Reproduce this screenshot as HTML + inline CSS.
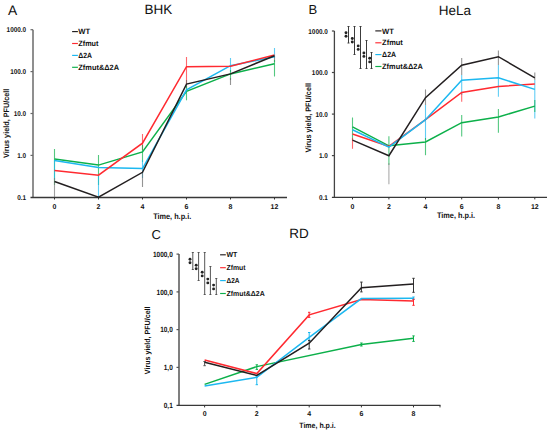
<!DOCTYPE html>
<html><head><meta charset="utf-8"><style>
html,body{margin:0;padding:0;background:#fff;width:550px;height:431px;overflow:hidden}
svg{display:block}
</style></head><body>
<svg width="550" height="431" viewBox="0 0 550 431" text-rendering="geometricPrecision">
<rect width="550" height="431" fill="#fff"/>
<line x1="33.0" y1="29.7" x2="33.0" y2="197.5" stroke="#6a6a6a" stroke-width="1.5" stroke-opacity="1.0"/>
<line x1="30.5" y1="197.5" x2="287.0" y2="197.5" stroke="#383838" stroke-width="1.4"/>
<line x1="30.5" y1="29.7" x2="33.0" y2="29.7" stroke="#6a6a6a" stroke-width="1.2"/>
<line x1="30.5" y1="71.6" x2="33.0" y2="71.6" stroke="#6a6a6a" stroke-width="1.2"/>
<line x1="30.5" y1="113.5" x2="33.0" y2="113.5" stroke="#6a6a6a" stroke-width="1.2"/>
<line x1="30.5" y1="155.4" x2="33.0" y2="155.4" stroke="#6a6a6a" stroke-width="1.2"/>
<line x1="54.5" y1="197.5" x2="54.5" y2="199.5" stroke="#333" stroke-width="1.0" stroke-opacity="1.0"/>
<line x1="98.5" y1="197.5" x2="98.5" y2="199.5" stroke="#333" stroke-width="1.0" stroke-opacity="1.0"/>
<line x1="142.5" y1="197.5" x2="142.5" y2="199.5" stroke="#333" stroke-width="1.0" stroke-opacity="1.0"/>
<line x1="186.5" y1="197.5" x2="186.5" y2="199.5" stroke="#333" stroke-width="1.0" stroke-opacity="1.0"/>
<line x1="230.5" y1="197.5" x2="230.5" y2="199.5" stroke="#333" stroke-width="1.0" stroke-opacity="1.0"/>
<line x1="274.5" y1="197.5" x2="274.5" y2="199.5" stroke="#333" stroke-width="1.0" stroke-opacity="1.0"/>
<text x="26.1" y="32.2" font-family='"Liberation Sans", sans-serif' font-size="7" font-weight="bold" fill="#111" text-anchor="end" textLength="19.5" lengthAdjust="spacingAndGlyphs">1000.0</text>
<text x="26.1" y="74.10000000000001" font-family='"Liberation Sans", sans-serif' font-size="7" font-weight="bold" fill="#111" text-anchor="end" textLength="15.95" lengthAdjust="spacingAndGlyphs">100.0</text>
<text x="26.1" y="116.00000000000001" font-family='"Liberation Sans", sans-serif' font-size="7" font-weight="bold" fill="#111" text-anchor="end" textLength="12.4" lengthAdjust="spacingAndGlyphs">10.0</text>
<text x="26.1" y="157.9" font-family='"Liberation Sans", sans-serif' font-size="7" font-weight="bold" fill="#111" text-anchor="end" textLength="8.87" lengthAdjust="spacingAndGlyphs">1.0</text>
<text x="26.1" y="199.8" font-family='"Liberation Sans", sans-serif' font-size="7" font-weight="bold" fill="#111" text-anchor="end" textLength="8.87" lengthAdjust="spacingAndGlyphs">0.1</text>
<text x="54.5" y="209.3" font-family='"Liberation Sans", sans-serif' font-size="7" font-weight="bold" fill="#111" text-anchor="middle">0</text>
<text x="98.5" y="209.3" font-family='"Liberation Sans", sans-serif' font-size="7" font-weight="bold" fill="#111" text-anchor="middle">2</text>
<text x="142.5" y="209.3" font-family='"Liberation Sans", sans-serif' font-size="7" font-weight="bold" fill="#111" text-anchor="middle">4</text>
<text x="186.5" y="209.3" font-family='"Liberation Sans", sans-serif' font-size="7" font-weight="bold" fill="#111" text-anchor="middle">6</text>
<text x="230.5" y="209.3" font-family='"Liberation Sans", sans-serif' font-size="7" font-weight="bold" fill="#111" text-anchor="middle">8</text>
<text x="274.5" y="209.3" font-family='"Liberation Sans", sans-serif' font-size="7" font-weight="bold" fill="#111" text-anchor="middle">12</text>
<text x="172.2" y="218.7" font-family='"Liberation Sans", sans-serif' font-size="8.1" font-weight="bold" fill="#111" text-anchor="middle" textLength="38" lengthAdjust="spacingAndGlyphs">Time, h.p.i.</text>
<text x="8.9" y="123.3" font-family='"Liberation Sans", sans-serif' font-size="7.9" font-weight="bold" fill="#111" text-anchor="middle" textLength="69.3" lengthAdjust="spacingAndGlyphs" transform="rotate(-90 8.9 123.3)">Virus yield, PFU/cell</text>
<text x="8.0" y="14.5" font-family='"Liberation Sans", sans-serif' font-size="13.8" font-weight="normal" fill="#111" text-anchor="start">A</text>
<text x="144.5" y="14.2" font-family='"Liberation Sans", sans-serif' font-size="13.5" font-weight="normal" fill="#111" text-anchor="start">BHK</text>
<line x1="54.5" y1="149.0" x2="54.5" y2="185.0" stroke="#0cb04a" stroke-width="1.1" stroke-opacity="0.7"/>
<line x1="54.5" y1="160.0" x2="54.5" y2="180.0" stroke="#1cb8f0" stroke-width="1.1" stroke-opacity="0.7"/>
<line x1="54.5" y1="178.0" x2="54.5" y2="197.0" stroke="#777" stroke-width="1.1" stroke-opacity="0.7"/>
<line x1="98.5" y1="155.0" x2="98.5" y2="185.0" stroke="#0cb04a" stroke-width="1.1" stroke-opacity="0.7"/>
<line x1="98.5" y1="175.0" x2="98.5" y2="197.0" stroke="#1cb8f0" stroke-width="1.1" stroke-opacity="0.7"/>
<line x1="142.5" y1="134.0" x2="142.5" y2="150.0" stroke="#ff2a30" stroke-width="1.1" stroke-opacity="0.7"/>
<line x1="142.5" y1="145.0" x2="142.5" y2="162.0" stroke="#0cb04a" stroke-width="1.1" stroke-opacity="0.7"/>
<line x1="142.5" y1="160.0" x2="142.5" y2="178.0" stroke="#1cb8f0" stroke-width="1.1" stroke-opacity="0.7"/>
<line x1="142.5" y1="172.0" x2="142.5" y2="187.0" stroke="#666" stroke-width="1.1" stroke-opacity="0.7"/>
<line x1="186.5" y1="57.0" x2="186.5" y2="84.0" stroke="#ff2a30" stroke-width="1.1" stroke-opacity="0.7"/>
<line x1="186.5" y1="80.0" x2="186.5" y2="88.0" stroke="#666" stroke-width="1.1" stroke-opacity="0.7"/>
<line x1="186.5" y1="86.0" x2="186.5" y2="100.3" stroke="#0cb04a" stroke-width="1.1" stroke-opacity="0.7"/>
<line x1="230.5" y1="58.0" x2="230.5" y2="72.0" stroke="#1cb8f0" stroke-width="1.1" stroke-opacity="0.7"/>
<line x1="230.5" y1="70.0" x2="230.5" y2="80.0" stroke="#0cb04a" stroke-width="1.1" stroke-opacity="0.7"/>
<line x1="230.5" y1="78.0" x2="230.5" y2="85.0" stroke="#666" stroke-width="1.1" stroke-opacity="0.7"/>
<line x1="274.5" y1="48.0" x2="274.5" y2="58.0" stroke="#1cb8f0" stroke-width="1.1" stroke-opacity="0.7"/>
<line x1="274.5" y1="56.0" x2="274.5" y2="62.0" stroke="#666" stroke-width="1.1" stroke-opacity="0.7"/>
<line x1="274.5" y1="60.0" x2="274.5" y2="76.5" stroke="#0cb04a" stroke-width="1.1" stroke-opacity="0.7"/>
<polyline points="54.5,159.1 98.5,165.1 142.5,151.9 186.5,91.4 230.5,73.9 274.5,63.8" fill="none" stroke="#0cb04a" stroke-width="1.5" stroke-linejoin="miter"/>
<polyline points="54.5,160.5 98.5,167.4 142.5,168.6 186.5,89.8 230.5,65.7 274.5,56.7" fill="none" stroke="#1cb8f0" stroke-width="1.5" stroke-linejoin="miter"/>
<polyline points="54.5,170.4 98.5,175.2 142.5,143.2 186.5,66.7 230.5,66.2 274.5,54.9" fill="none" stroke="#ff2a30" stroke-width="1.5" stroke-linejoin="miter"/>
<polyline points="54.5,181.5 98.5,197.1 142.5,172.3 186.5,84.1 230.5,73.9 274.5,55.7" fill="none" stroke="#231f20" stroke-width="1.5" stroke-linejoin="miter"/>
<line x1="72.1" y1="31.6" x2="77.9" y2="31.6" stroke="#231f20" stroke-width="1.15"/>
<text x="78.3" y="34.2" font-family='"Liberation Sans", sans-serif' font-size="7.7" font-weight="bold" fill="#111" text-anchor="start" textLength="11.9" lengthAdjust="spacingAndGlyphs">WT</text>
<line x1="72.1" y1="43.5" x2="77.9" y2="43.5" stroke="#ff2a30" stroke-width="1.15"/>
<text x="78.3" y="46.1" font-family='"Liberation Sans", sans-serif' font-size="7.7" font-weight="bold" fill="#111" text-anchor="start" textLength="20.2" lengthAdjust="spacingAndGlyphs">Zfmut</text>
<line x1="72.1" y1="55.4" x2="77.9" y2="55.4" stroke="#1cb8f0" stroke-width="1.15"/>
<text x="78.3" y="58.00000000000001" font-family='"Liberation Sans", sans-serif' font-size="7.7" font-weight="bold" fill="#111" text-anchor="start" textLength="13.8" lengthAdjust="spacingAndGlyphs">Δ2A</text>
<line x1="72.1" y1="67.3" x2="77.9" y2="67.3" stroke="#0cb04a" stroke-width="1.15"/>
<text x="78.3" y="69.9" font-family='"Liberation Sans", sans-serif' font-size="7.7" font-weight="bold" fill="#111" text-anchor="start" textLength="40.8" lengthAdjust="spacingAndGlyphs">Zfmut&amp;Δ2A</text>
<line x1="334.4" y1="31.0" x2="334.4" y2="197.4" stroke="#444" stroke-width="1.3" stroke-opacity="1.0"/>
<line x1="331.9" y1="197.4" x2="547.0" y2="197.4" stroke="#383838" stroke-width="1.4"/>
<line x1="331.9" y1="31.0" x2="334.4" y2="31.0" stroke="#444" stroke-width="1.2"/>
<line x1="331.9" y1="72.5" x2="334.4" y2="72.5" stroke="#444" stroke-width="1.2"/>
<line x1="331.9" y1="114.1" x2="334.4" y2="114.1" stroke="#444" stroke-width="1.2"/>
<line x1="331.9" y1="155.6" x2="334.4" y2="155.6" stroke="#444" stroke-width="1.2"/>
<line x1="352.5" y1="197.4" x2="352.5" y2="199.4" stroke="#333" stroke-width="1.0" stroke-opacity="1.0"/>
<line x1="388.9" y1="197.4" x2="388.9" y2="199.4" stroke="#333" stroke-width="1.0" stroke-opacity="1.0"/>
<line x1="425.5" y1="197.4" x2="425.5" y2="199.4" stroke="#333" stroke-width="1.0" stroke-opacity="1.0"/>
<line x1="461.7" y1="197.4" x2="461.7" y2="199.4" stroke="#333" stroke-width="1.0" stroke-opacity="1.0"/>
<line x1="498.4" y1="197.4" x2="498.4" y2="199.4" stroke="#333" stroke-width="1.0" stroke-opacity="1.0"/>
<line x1="534.8" y1="197.4" x2="534.8" y2="199.4" stroke="#333" stroke-width="1.0" stroke-opacity="1.0"/>
<text x="327.8" y="33.5" font-family='"Liberation Sans", sans-serif' font-size="7" font-weight="bold" fill="#111" text-anchor="end" textLength="19.5" lengthAdjust="spacingAndGlyphs">1000.0</text>
<text x="327.8" y="75.05" font-family='"Liberation Sans", sans-serif' font-size="7" font-weight="bold" fill="#111" text-anchor="end" textLength="15.95" lengthAdjust="spacingAndGlyphs">100.0</text>
<text x="327.8" y="116.6" font-family='"Liberation Sans", sans-serif' font-size="7" font-weight="bold" fill="#111" text-anchor="end" textLength="12.4" lengthAdjust="spacingAndGlyphs">10.0</text>
<text x="327.8" y="158.14999999999998" font-family='"Liberation Sans", sans-serif' font-size="7" font-weight="bold" fill="#111" text-anchor="end" textLength="8.87" lengthAdjust="spacingAndGlyphs">1.0</text>
<text x="327.8" y="199.7" font-family='"Liberation Sans", sans-serif' font-size="7" font-weight="bold" fill="#111" text-anchor="end" textLength="8.87" lengthAdjust="spacingAndGlyphs">0.1</text>
<text x="352.5" y="209.1" font-family='"Liberation Sans", sans-serif' font-size="7" font-weight="bold" fill="#111" text-anchor="middle">0</text>
<text x="388.9" y="209.1" font-family='"Liberation Sans", sans-serif' font-size="7" font-weight="bold" fill="#111" text-anchor="middle">2</text>
<text x="425.5" y="209.1" font-family='"Liberation Sans", sans-serif' font-size="7" font-weight="bold" fill="#111" text-anchor="middle">4</text>
<text x="461.7" y="209.1" font-family='"Liberation Sans", sans-serif' font-size="7" font-weight="bold" fill="#111" text-anchor="middle">6</text>
<text x="498.4" y="209.1" font-family='"Liberation Sans", sans-serif' font-size="7" font-weight="bold" fill="#111" text-anchor="middle">8</text>
<text x="534.8" y="209.1" font-family='"Liberation Sans", sans-serif' font-size="7" font-weight="bold" fill="#111" text-anchor="middle">12</text>
<text x="456.0" y="218.3" font-family='"Liberation Sans", sans-serif' font-size="8.1" font-weight="bold" fill="#111" text-anchor="middle" textLength="38" lengthAdjust="spacingAndGlyphs">Time, h.p.i.</text>
<text x="311.3" y="117.8" font-family='"Liberation Sans", sans-serif' font-size="7.9" font-weight="bold" fill="#111" text-anchor="middle" textLength="69.6" lengthAdjust="spacingAndGlyphs" transform="rotate(-90 311.3 117.8)">Virus yield, PFU/cell</text>
<text x="308.5" y="13.6" font-family='"Liberation Sans", sans-serif' font-size="13" font-weight="normal" fill="#111" text-anchor="start">B</text>
<text x="438.8" y="15.0" font-family='"Liberation Sans", sans-serif' font-size="13.5" font-weight="normal" fill="#111" text-anchor="start">HeLa</text>
<line x1="352.5" y1="117.5" x2="352.5" y2="140.0" stroke="#0cb04a" stroke-width="1.1" stroke-opacity="0.7"/>
<line x1="352.5" y1="138.0" x2="352.5" y2="148.8" stroke="#ff2a30" stroke-width="1.1" stroke-opacity="0.7"/>
<line x1="388.9" y1="136.3" x2="388.9" y2="165.0" stroke="#0cb04a" stroke-width="1.1" stroke-opacity="0.7"/>
<line x1="388.9" y1="163.0" x2="388.9" y2="184.2" stroke="#888" stroke-width="1.1" stroke-opacity="0.7"/>
<line x1="425.5" y1="89.4" x2="425.5" y2="105.0" stroke="#666" stroke-width="1.1" stroke-opacity="0.7"/>
<line x1="425.5" y1="105.0" x2="425.5" y2="140.0" stroke="#1cb8f0" stroke-width="1.1" stroke-opacity="0.7"/>
<line x1="425.5" y1="138.0" x2="425.5" y2="155.2" stroke="#0cb04a" stroke-width="1.1" stroke-opacity="0.7"/>
<line x1="461.7" y1="57.9" x2="461.7" y2="75.0" stroke="#666" stroke-width="1.1" stroke-opacity="0.7"/>
<line x1="461.7" y1="75.0" x2="461.7" y2="95.0" stroke="#1cb8f0" stroke-width="1.1" stroke-opacity="0.7"/>
<line x1="461.7" y1="93.0" x2="461.7" y2="101.8" stroke="#ff2a30" stroke-width="1.1" stroke-opacity="0.7"/>
<line x1="461.7" y1="115.1" x2="461.7" y2="136.6" stroke="#0cb04a" stroke-width="1.1" stroke-opacity="0.7"/>
<line x1="498.4" y1="50.4" x2="498.4" y2="65.0" stroke="#666" stroke-width="1.1" stroke-opacity="0.7"/>
<line x1="498.4" y1="65.0" x2="498.4" y2="96.8" stroke="#1cb8f0" stroke-width="1.1" stroke-opacity="0.7"/>
<line x1="498.4" y1="108.9" x2="498.4" y2="132.8" stroke="#0cb04a" stroke-width="1.1" stroke-opacity="0.7"/>
<line x1="534.8" y1="72.5" x2="534.8" y2="80.0" stroke="#666" stroke-width="1.1" stroke-opacity="0.7"/>
<line x1="534.8" y1="80.0" x2="534.8" y2="118.4" stroke="#1cb8f0" stroke-width="1.1" stroke-opacity="0.7"/>
<line x1="534.8" y1="100.0" x2="534.8" y2="112.0" stroke="#0cb04a" stroke-width="1.1" stroke-opacity="0.7"/>
<polyline points="352.5,126.8 388.9,145.8 425.5,142.0 461.7,122.7 498.4,117.0 534.8,106.1" fill="none" stroke="#0cb04a" stroke-width="1.5" stroke-linejoin="miter"/>
<polyline points="352.5,134.0 388.9,146.4 425.5,119.7 461.7,92.4 498.4,86.4 534.8,84.1" fill="none" stroke="#ff2a30" stroke-width="1.5" stroke-linejoin="miter"/>
<polyline points="352.5,129.7 388.9,147.2 425.5,119.7 461.7,80.3 498.4,77.8 534.8,89.4" fill="none" stroke="#1cb8f0" stroke-width="1.5" stroke-linejoin="miter"/>
<polyline points="352.5,140.1 388.9,155.7 425.5,97.7 461.7,65.2 498.4,56.7 534.8,77.8" fill="none" stroke="#231f20" stroke-width="1.5" stroke-linejoin="miter"/>
<line x1="375.3" y1="30.9" x2="381.5" y2="30.9" stroke="#231f20" stroke-width="1.15"/>
<text x="382.1" y="33.5" font-family='"Liberation Sans", sans-serif' font-size="7.7" font-weight="bold" fill="#111" text-anchor="start" textLength="11.8" lengthAdjust="spacingAndGlyphs">WT</text>
<line x1="375.3" y1="42.8" x2="381.5" y2="42.8" stroke="#ff2a30" stroke-width="1.15"/>
<text x="382.1" y="45.37" font-family='"Liberation Sans", sans-serif' font-size="7.7" font-weight="bold" fill="#111" text-anchor="start" textLength="20.7" lengthAdjust="spacingAndGlyphs">Zfmut</text>
<line x1="375.3" y1="54.6" x2="381.5" y2="54.6" stroke="#1cb8f0" stroke-width="1.15"/>
<text x="382.1" y="57.24" font-family='"Liberation Sans", sans-serif' font-size="7.7" font-weight="bold" fill="#111" text-anchor="start" textLength="14.0" lengthAdjust="spacingAndGlyphs">Δ2A</text>
<line x1="375.3" y1="66.5" x2="381.5" y2="66.5" stroke="#0cb04a" stroke-width="1.15"/>
<text x="382.1" y="69.10999999999999" font-family='"Liberation Sans", sans-serif' font-size="7.7" font-weight="bold" fill="#111" text-anchor="start" textLength="40.7" lengthAdjust="spacingAndGlyphs">Zfmut&amp;Δ2A</text>
<line x1="348.5" y1="26.5" x2="348.5" y2="43.0" stroke="#3c3c3c" stroke-width="1.0" stroke-opacity="1.0"/>
<line x1="347.5" y1="26.5" x2="349.5" y2="26.5" stroke="#3c3c3c" stroke-width="1.0"/>
<line x1="347.5" y1="43.0" x2="349.5" y2="43.0" stroke="#3c3c3c" stroke-width="1.0"/>
<circle cx="346.0" cy="32.8" r="1.45" fill="#222"/>
<circle cx="346.0" cy="36.3" r="1.45" fill="#222"/>
<line x1="354.5" y1="26.5" x2="354.5" y2="54.5" stroke="#3c3c3c" stroke-width="1.0" stroke-opacity="1.0"/>
<line x1="353.5" y1="26.5" x2="355.5" y2="26.5" stroke="#3c3c3c" stroke-width="1.0"/>
<line x1="353.5" y1="54.5" x2="355.5" y2="54.5" stroke="#3c3c3c" stroke-width="1.0"/>
<circle cx="352.3" cy="38.5" r="1.45" fill="#222"/>
<circle cx="352.3" cy="42.0" r="1.45" fill="#222"/>
<line x1="360.5" y1="26.5" x2="360.5" y2="68.5" stroke="#3c3c3c" stroke-width="1.0" stroke-opacity="1.0"/>
<line x1="359.5" y1="26.5" x2="361.5" y2="26.5" stroke="#3c3c3c" stroke-width="1.0"/>
<line x1="359.5" y1="68.5" x2="361.5" y2="68.5" stroke="#3c3c3c" stroke-width="1.0"/>
<circle cx="358.2" cy="45.9" r="1.45" fill="#222"/>
<circle cx="358.2" cy="49.4" r="1.45" fill="#222"/>
<line x1="366.5" y1="40.5" x2="366.5" y2="68.5" stroke="#3c3c3c" stroke-width="1.0" stroke-opacity="1.0"/>
<line x1="365.5" y1="40.5" x2="367.5" y2="40.5" stroke="#3c3c3c" stroke-width="1.0"/>
<line x1="365.5" y1="68.5" x2="367.5" y2="68.5" stroke="#3c3c3c" stroke-width="1.0"/>
<circle cx="363.9" cy="53.0" r="1.45" fill="#222"/>
<circle cx="363.9" cy="56.4" r="1.45" fill="#222"/>
<line x1="371.5" y1="52.5" x2="371.5" y2="68.5" stroke="#3c3c3c" stroke-width="1.0" stroke-opacity="1.0"/>
<line x1="370.5" y1="52.5" x2="372.5" y2="52.5" stroke="#3c3c3c" stroke-width="1.0"/>
<line x1="370.5" y1="68.5" x2="372.5" y2="68.5" stroke="#3c3c3c" stroke-width="1.0"/>
<circle cx="369.7" cy="58.3" r="1.45" fill="#222"/>
<circle cx="369.7" cy="61.9" r="1.45" fill="#222"/>
<line x1="179.0" y1="254.1" x2="179.0" y2="405.4" stroke="#555" stroke-width="1.5" stroke-opacity="1.0"/>
<line x1="176.5" y1="405.4" x2="440.5" y2="405.4" stroke="#383838" stroke-width="1.4"/>
<line x1="176.5" y1="254.1" x2="179.0" y2="254.1" stroke="#555" stroke-width="1.2"/>
<line x1="176.5" y1="291.9" x2="179.0" y2="291.9" stroke="#555" stroke-width="1.2"/>
<line x1="176.5" y1="329.6" x2="179.0" y2="329.6" stroke="#555" stroke-width="1.2"/>
<line x1="176.5" y1="367.4" x2="179.0" y2="367.4" stroke="#555" stroke-width="1.2"/>
<line x1="204.6" y1="405.4" x2="204.6" y2="407.4" stroke="#333" stroke-width="1.0" stroke-opacity="1.0"/>
<line x1="256.8" y1="405.4" x2="256.8" y2="407.4" stroke="#333" stroke-width="1.0" stroke-opacity="1.0"/>
<line x1="309.2" y1="405.4" x2="309.2" y2="407.4" stroke="#333" stroke-width="1.0" stroke-opacity="1.0"/>
<line x1="361.4" y1="405.4" x2="361.4" y2="407.4" stroke="#333" stroke-width="1.0" stroke-opacity="1.0"/>
<line x1="413.5" y1="405.4" x2="413.5" y2="407.4" stroke="#333" stroke-width="1.0" stroke-opacity="1.0"/>
<line x1="440.0" y1="405.4" x2="440.0" y2="407.4" stroke="#333" stroke-width="1.0" stroke-opacity="1.0"/>
<text x="172.8" y="256.8" font-family='"Liberation Sans", sans-serif' font-size="7.5" font-weight="bold" fill="#111" text-anchor="end" textLength="19.89" lengthAdjust="spacingAndGlyphs">1000,0</text>
<text x="172.8" y="294.55" font-family='"Liberation Sans", sans-serif' font-size="7.5" font-weight="bold" fill="#111" text-anchor="end" textLength="16.269" lengthAdjust="spacingAndGlyphs">100,0</text>
<text x="172.8" y="332.3" font-family='"Liberation Sans", sans-serif' font-size="7.5" font-weight="bold" fill="#111" text-anchor="end" textLength="12.648000000000001" lengthAdjust="spacingAndGlyphs">10,0</text>
<text x="172.8" y="370.05" font-family='"Liberation Sans", sans-serif' font-size="7.5" font-weight="bold" fill="#111" text-anchor="end" textLength="9.0474" lengthAdjust="spacingAndGlyphs">1,0</text>
<text x="172.8" y="407.8" font-family='"Liberation Sans", sans-serif' font-size="7.5" font-weight="bold" fill="#111" text-anchor="end" textLength="9.0474" lengthAdjust="spacingAndGlyphs">0,1</text>
<text x="204.6" y="415.6" font-family='"Liberation Sans", sans-serif' font-size="7" font-weight="bold" fill="#111" text-anchor="middle">0</text>
<text x="256.8" y="415.6" font-family='"Liberation Sans", sans-serif' font-size="7" font-weight="bold" fill="#111" text-anchor="middle">2</text>
<text x="309.2" y="415.6" font-family='"Liberation Sans", sans-serif' font-size="7" font-weight="bold" fill="#111" text-anchor="middle">4</text>
<text x="361.4" y="415.6" font-family='"Liberation Sans", sans-serif' font-size="7" font-weight="bold" fill="#111" text-anchor="middle">6</text>
<text x="413.5" y="415.6" font-family='"Liberation Sans", sans-serif' font-size="7" font-weight="bold" fill="#111" text-anchor="middle">8</text>
<text x="317.5" y="427.6" font-family='"Liberation Sans", sans-serif' font-size="7.7" font-weight="bold" fill="#111" text-anchor="middle" textLength="36.5" lengthAdjust="spacingAndGlyphs">Time, h.p.i.</text>
<text x="149.7" y="340.3" font-family='"Liberation Sans", sans-serif' font-size="7.6" font-weight="bold" fill="#111" text-anchor="middle" textLength="67.7" lengthAdjust="spacingAndGlyphs" transform="rotate(-90 149.7 340.3)">Virus yield, PFU/cell</text>
<text x="151.5" y="238.5" font-family='"Liberation Sans", sans-serif' font-size="13" font-weight="normal" fill="#111" text-anchor="start">C</text>
<text x="289.2" y="238.3" font-family='"Liberation Sans", sans-serif' font-size="13.5" font-weight="normal" fill="#111" text-anchor="start">RD</text>
<line x1="204.6" y1="361.5" x2="204.6" y2="365.7" stroke="#555" stroke-width="1.0" stroke-opacity="1.0"/>
<line x1="203.4" y1="361.5" x2="205.8" y2="361.5" stroke="#555" stroke-width="1.0"/>
<line x1="203.4" y1="365.7" x2="205.8" y2="365.7" stroke="#555" stroke-width="1.0"/>
<line x1="256.8" y1="364.8" x2="256.8" y2="369.4" stroke="#0cb04a" stroke-width="1.0" stroke-opacity="1.0"/>
<line x1="255.6" y1="364.8" x2="258.0" y2="364.8" stroke="#0cb04a" stroke-width="1.0"/>
<line x1="255.6" y1="369.4" x2="258.0" y2="369.4" stroke="#0cb04a" stroke-width="1.0"/>
<line x1="256.8" y1="376.8" x2="256.8" y2="384.7" stroke="#1cb8f0" stroke-width="1.0" stroke-opacity="1.0"/>
<line x1="255.6" y1="376.8" x2="258.0" y2="376.8" stroke="#1cb8f0" stroke-width="1.0"/>
<line x1="255.6" y1="384.7" x2="258.0" y2="384.7" stroke="#1cb8f0" stroke-width="1.0"/>
<line x1="309.2" y1="312.3" x2="309.2" y2="317.4" stroke="#ff2a30" stroke-width="1.0" stroke-opacity="1.0"/>
<line x1="308.0" y1="312.3" x2="310.4" y2="312.3" stroke="#ff2a30" stroke-width="1.0"/>
<line x1="308.0" y1="317.4" x2="310.4" y2="317.4" stroke="#ff2a30" stroke-width="1.0"/>
<line x1="309.2" y1="332.5" x2="309.2" y2="340.4" stroke="#1cb8f0" stroke-width="1.0" stroke-opacity="1.0"/>
<line x1="308.0" y1="332.5" x2="310.4" y2="332.5" stroke="#1cb8f0" stroke-width="1.0"/>
<line x1="308.0" y1="340.4" x2="310.4" y2="340.4" stroke="#1cb8f0" stroke-width="1.0"/>
<line x1="309.2" y1="340.4" x2="309.2" y2="349.0" stroke="#333" stroke-width="1.0" stroke-opacity="1.0"/>
<line x1="308.0" y1="340.4" x2="310.4" y2="340.4" stroke="#333" stroke-width="1.0"/>
<line x1="308.0" y1="349.0" x2="310.4" y2="349.0" stroke="#333" stroke-width="1.0"/>
<line x1="361.4" y1="282.1" x2="361.4" y2="291.9" stroke="#333" stroke-width="1.0" stroke-opacity="1.0"/>
<line x1="360.2" y1="282.1" x2="362.6" y2="282.1" stroke="#333" stroke-width="1.0"/>
<line x1="360.2" y1="291.9" x2="362.6" y2="291.9" stroke="#333" stroke-width="1.0"/>
<line x1="413.5" y1="278.3" x2="413.5" y2="292.3" stroke="#333" stroke-width="1.0" stroke-opacity="1.0"/>
<line x1="412.3" y1="278.3" x2="414.7" y2="278.3" stroke="#333" stroke-width="1.0"/>
<line x1="412.3" y1="292.3" x2="414.7" y2="292.3" stroke="#333" stroke-width="1.0"/>
<line x1="413.5" y1="297.0" x2="413.5" y2="299.5" stroke="#1cb8f0" stroke-width="1.0" stroke-opacity="1.0"/>
<line x1="412.3" y1="297.0" x2="414.7" y2="297.0" stroke="#1cb8f0" stroke-width="1.0"/>
<line x1="412.3" y1="299.5" x2="414.7" y2="299.5" stroke="#1cb8f0" stroke-width="1.0"/>
<line x1="413.5" y1="299.0" x2="413.5" y2="305.3" stroke="#ff2a30" stroke-width="1.0" stroke-opacity="1.0"/>
<line x1="412.3" y1="299.0" x2="414.7" y2="299.0" stroke="#ff2a30" stroke-width="1.0"/>
<line x1="412.3" y1="305.3" x2="414.7" y2="305.3" stroke="#ff2a30" stroke-width="1.0"/>
<line x1="413.5" y1="335.9" x2="413.5" y2="341.4" stroke="#0cb04a" stroke-width="1.0" stroke-opacity="1.0"/>
<line x1="412.3" y1="335.9" x2="414.7" y2="335.9" stroke="#0cb04a" stroke-width="1.0"/>
<line x1="412.3" y1="341.4" x2="414.7" y2="341.4" stroke="#0cb04a" stroke-width="1.0"/>
<line x1="361.4" y1="343.0" x2="361.4" y2="346.0" stroke="#0cb04a" stroke-width="1.0" stroke-opacity="1.0"/>
<line x1="360.2" y1="343.0" x2="362.6" y2="343.0" stroke="#0cb04a" stroke-width="1.0"/>
<line x1="360.2" y1="346.0" x2="362.6" y2="346.0" stroke="#0cb04a" stroke-width="1.0"/>
<polyline points="204.6,384.4 256.8,366.6 361.4,344.5 413.5,338.3" fill="none" stroke="#0cb04a" stroke-width="1.5" stroke-linejoin="miter"/>
<polyline points="204.6,359.9 256.8,373.6 309.2,314.9 361.4,299.6 413.5,301.0" fill="none" stroke="#ff2a30" stroke-width="1.5" stroke-linejoin="miter"/>
<polyline points="204.6,386.0 256.8,377.3 309.2,337.3 361.4,298.6 413.5,298.2" fill="none" stroke="#1cb8f0" stroke-width="1.5" stroke-linejoin="miter"/>
<polyline points="204.6,362.3 256.8,375.4 309.2,343.2 361.4,287.7 413.5,283.9" fill="none" stroke="#231f20" stroke-width="1.5" stroke-linejoin="miter"/>
<line x1="220.1" y1="254.8" x2="225.8" y2="254.8" stroke="#231f20" stroke-width="1.15"/>
<text x="226.5" y="257.3" font-family='"Liberation Sans", sans-serif' font-size="7.3" font-weight="bold" fill="#111" text-anchor="start" textLength="10.8" lengthAdjust="spacingAndGlyphs">WT</text>
<line x1="220.1" y1="267.7" x2="225.8" y2="267.7" stroke="#ff2a30" stroke-width="1.15"/>
<text x="226.5" y="270.2" font-family='"Liberation Sans", sans-serif' font-size="7.3" font-weight="bold" fill="#111" text-anchor="start" textLength="19.1" lengthAdjust="spacingAndGlyphs">Zfmut</text>
<line x1="220.1" y1="280.6" x2="225.8" y2="280.6" stroke="#1cb8f0" stroke-width="1.15"/>
<text x="226.5" y="283.1" font-family='"Liberation Sans", sans-serif' font-size="7.3" font-weight="bold" fill="#111" text-anchor="start" textLength="13.0" lengthAdjust="spacingAndGlyphs">Δ2A</text>
<line x1="220.1" y1="293.5" x2="225.8" y2="293.5" stroke="#0cb04a" stroke-width="1.15"/>
<text x="226.5" y="296.0" font-family='"Liberation Sans", sans-serif' font-size="7.3" font-weight="bold" fill="#111" text-anchor="start" textLength="38.2" lengthAdjust="spacingAndGlyphs">Zfmut&amp;Δ2A</text>
<line x1="192.8" y1="252.5" x2="192.8" y2="269.5" stroke="#555" stroke-width="1.0" stroke-opacity="1.0"/>
<line x1="191.8" y1="252.5" x2="193.8" y2="252.5" stroke="#555" stroke-width="1.0"/>
<line x1="191.8" y1="269.5" x2="193.8" y2="269.5" stroke="#555" stroke-width="1.0"/>
<circle cx="190.0" cy="259.2" r="1.45" fill="#222"/>
<circle cx="190.0" cy="262.8" r="1.45" fill="#222"/>
<line x1="198.6" y1="252.5" x2="198.6" y2="280.5" stroke="#555" stroke-width="1.0" stroke-opacity="1.0"/>
<line x1="197.6" y1="252.5" x2="199.6" y2="252.5" stroke="#555" stroke-width="1.0"/>
<line x1="197.6" y1="280.5" x2="199.6" y2="280.5" stroke="#555" stroke-width="1.0"/>
<circle cx="196.2" cy="265.2" r="1.45" fill="#222"/>
<circle cx="196.2" cy="268.7" r="1.45" fill="#222"/>
<line x1="204.7" y1="252.5" x2="204.7" y2="294.5" stroke="#555" stroke-width="1.0" stroke-opacity="1.0"/>
<line x1="203.7" y1="252.5" x2="205.7" y2="252.5" stroke="#555" stroke-width="1.0"/>
<line x1="203.7" y1="294.5" x2="205.7" y2="294.5" stroke="#555" stroke-width="1.0"/>
<circle cx="202.2" cy="272.2" r="1.45" fill="#222"/>
<circle cx="202.2" cy="275.9" r="1.45" fill="#222"/>
<line x1="210.4" y1="266.5" x2="210.4" y2="294.5" stroke="#555" stroke-width="1.0" stroke-opacity="1.0"/>
<line x1="209.4" y1="266.5" x2="211.4" y2="266.5" stroke="#555" stroke-width="1.0"/>
<line x1="209.4" y1="294.5" x2="211.4" y2="294.5" stroke="#555" stroke-width="1.0"/>
<circle cx="207.8" cy="279.1" r="1.45" fill="#222"/>
<circle cx="207.8" cy="282.9" r="1.45" fill="#222"/>
<line x1="216.3" y1="278.5" x2="216.3" y2="294.5" stroke="#555" stroke-width="1.0" stroke-opacity="1.0"/>
<line x1="215.3" y1="278.5" x2="217.3" y2="278.5" stroke="#555" stroke-width="1.0"/>
<line x1="215.3" y1="294.5" x2="217.3" y2="294.5" stroke="#555" stroke-width="1.0"/>
<circle cx="213.6" cy="285.1" r="1.45" fill="#222"/>
<circle cx="213.6" cy="288.9" r="1.45" fill="#222"/>
</svg>
</body></html>
